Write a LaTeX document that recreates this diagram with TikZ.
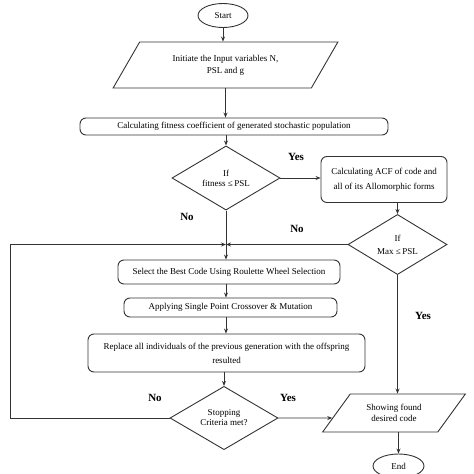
\documentclass[tikz,border=0pt]{standalone}
\usepackage{fontspec}
\setmainfont{Liberation Serif}
\usetikzlibrary{shapes.geometric,arrows.meta}
\definecolor{linec}{HTML}{333333}
\begin{document}
\begin{tikzpicture}[x=1pt,y=-1pt,
  every node/.style={inner sep=0pt, font=\fontsize{9}{10}\selectfont, align=center},
  shp/.style={draw=linec, line width=0.9pt},
  rbox/.style={shp, rectangle, rounded corners=6pt},
  dia/.style={shp, diamond},
  oval/.style={shp, ellipse},
  para/.style={shp, trapezium, trapezium stretches=true},
  lbl/.style={font=\fontsize{11}{12}\selectfont\bfseries},
  arr/.style={draw=linec, line width=0.9pt, -{Stealth[length=5pt,width=4pt]}},
  ln/.style={draw=linec, line width=0.9pt}]
\useasboundingbox (0,0) rectangle (474,474);
\node[oval, minimum width=50pt, minimum height=24pt] (start) at (223,15.5) {Start};
\node[para, trapezium left angle=51, trapezium right angle=129, minimum width=225pt, minimum height=46pt] (init) at (225.5,65) {Initiate the Input variables N,\\[2pt] PSL and g};
\node[rbox, minimum width=308pt, minimum height=17pt] (calc) at (234,126.5) {Calculating fitness coefficient of generated stochastic population};
\node[dia, minimum width=108pt, minimum height=48pt] (d1) at (226,178) {If\\ fitness ≤\,PSL};
\node[rbox, minimum width=126pt, minimum height=46pt] (acf) at (384,179.5) {Calculating ACF of code and\\[5pt] all of its Allomorphic forms};
\node[dia, minimum width=99pt, minimum height=53pt] (d2) at (397.5,244.5) {If\\[3pt] Max ≤\,PSL};
\node[rbox, minimum width=222pt, minimum height=24pt] (select) at (229,272) {Select the Best Code Using Roulette Wheel Selection};
\node[rbox, minimum width=213pt, minimum height=19pt] (apply) at (230.5,307.5) {Applying Single Point Crossover \& Mutation};
\node[rbox, minimum width=277pt, minimum height=38pt] (replace) at (226.5,353) {Replace all individuals of the previous generation with the offspring\\[4pt] resulted};
\node[dia, minimum width=108pt, minimum height=60pt] (stop) at (224,418) {Stopping\\ Criteria met?};
\node[para, trapezium left angle=45, trapezium right angle=135, minimum width=144pt, minimum height=38pt] (show) at (394,413) {Showing found\\[1pt] desired code};
\node[oval, minimum width=51pt, minimum height=24pt] (endn) at (398.5,466) {End};
\node[lbl] (yes1) at (296,157) {Yes};
\node[lbl] (no1) at (187,217) {No};
\node[lbl] (no2) at (297,229) {No};
\node[lbl] (yes2) at (423,316) {Yes};
\node[lbl] (no3) at (155,398) {No};
\node[lbl] (yes3) at (288,398) {Yes};
\coordinate (jn) at (d1.south |- d2.west);
\coordinate (lx) at (10,0);
\draw[arr] (start.south) -- (start.south |- init.north);
\draw[arr] (init.south) -- (init.south |- calc.north);
\draw[arr] (d1.north |- calc.south) -- (d1.north);
\draw[arr] (d1.east) -- (d1.east -| acf.west);
\draw[arr] (d2.north |- acf.south) -- (d2.north);
\draw[arr] (d1.south) -- (d1.south |- select.north);
\draw[arr] (d2.west) -- (jn);
\draw[arr] (stop.west) -- (stop.west -| lx) -- (lx |- jn) -- (jn);
\draw[arr] (d1.south |- select.south) -- (d1.south |- apply.north);
\draw[arr] (d1.south |- apply.south) -- (d1.south |- replace.north);
\draw[arr] (stop.north |- replace.south) -- (stop.north);
\draw[arr] (d2.south) -- (d2.south |- show.north);
\draw[arr] (stop.east) -- (intersection cs: first line={(stop.east)--(stop.east -| show.east)}, second line={(show.bottom left corner)--(show.top left corner)});
\draw[arr] (endn.north |- show.south) -- (endn.north);
\end{tikzpicture}
\end{document}
